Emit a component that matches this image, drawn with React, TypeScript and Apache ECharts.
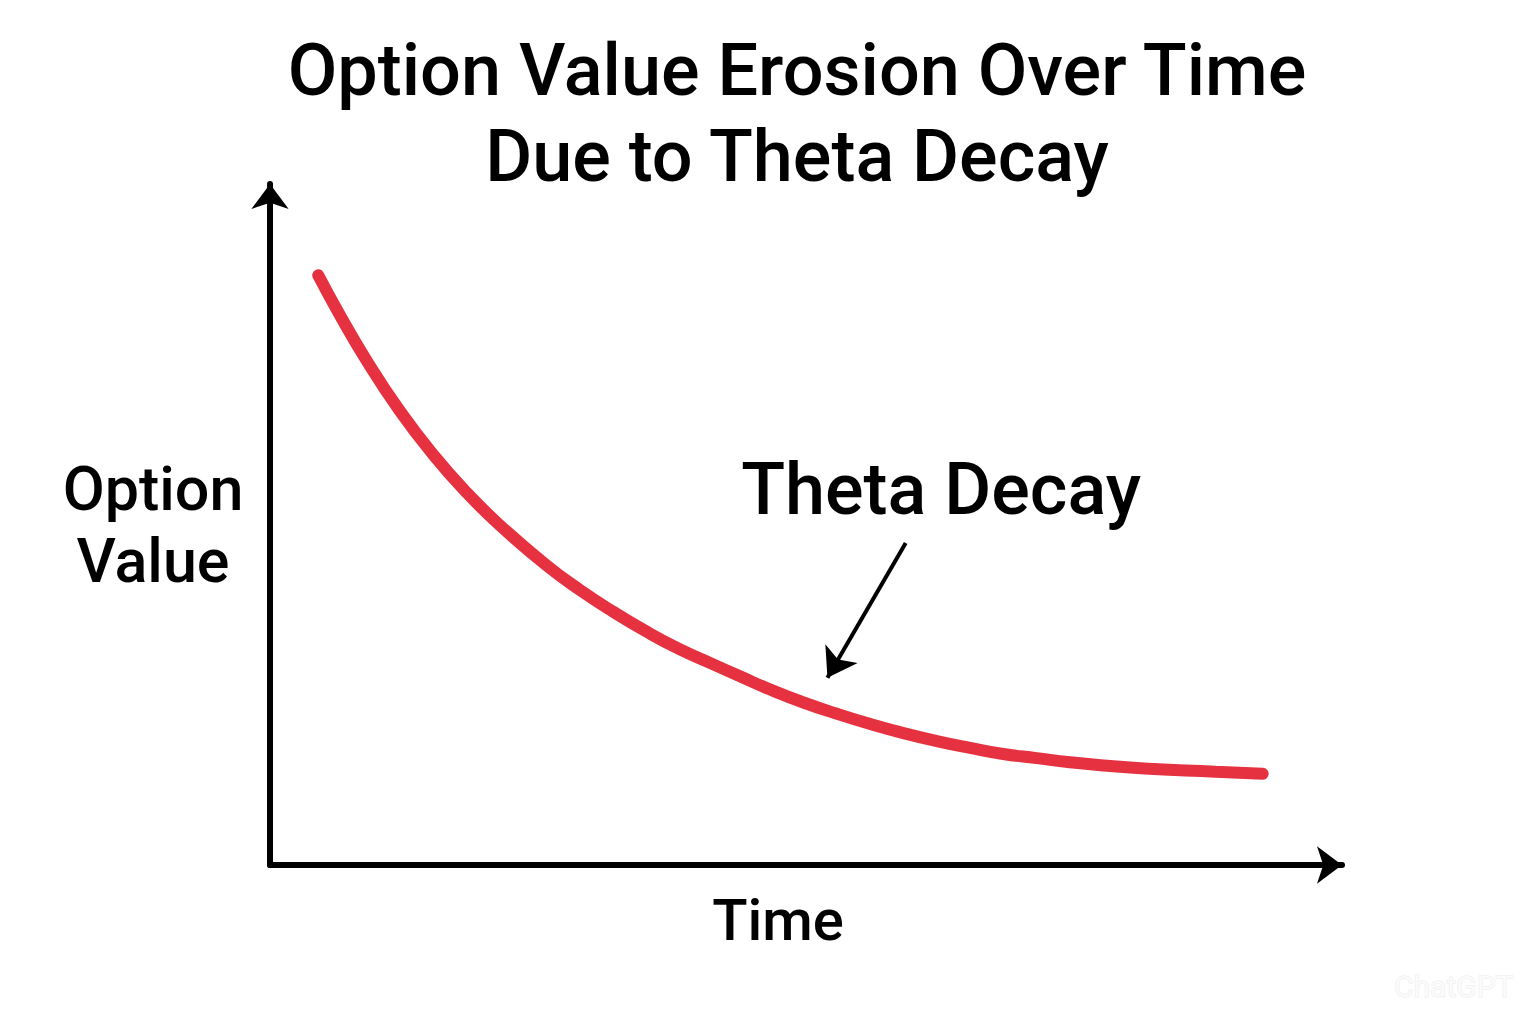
import { useEffect, useRef } from "react";
import * as echarts from "echarts";

// values (time units 0..10, value units 0..10)
const timePoints = [
  0.45, 0.65, 0.9, 1.21, 1.52, 1.84, 2.15, 2.58, 2.89, 3.2, 3.52, 3.82, 4.13,
  4.4, 4.66, 4.97, 5.29, 5.6, 5.9, 6.22, 6.53, 6.84, 7.15, 7.46, 8.12, 8.82,
  9.26,
];
const optionValue = [
  8.66, 8.08, 7.41, 6.67, 6.03, 5.46, 4.98, 4.4, 4.04, 3.72, 3.42, 3.17, 2.95,
  2.76, 2.58, 2.39, 2.22, 2.07, 1.94, 1.82, 1.72, 1.63, 1.57, 1.51, 1.42, 1.37,
  1.34,
];
const annotationFrom = [5.93, 4.73];
const annotationTo = [5.2, 2.75];
const annotationLabelAt = [6.26, 5.51];

const TITLE = "Option Value Erosion Over Time\nDue to Theta Decay";
const X_NAME = "Time";
const Y_NAME = "Option\nValue";
const ANNOTATION = "Theta Decay";

const FONT = "Roboto, Inter, 'Noto Sans', sans-serif";
const RED = "#E63240";

export default function App() {
  const chartRef = useRef<HTMLDivElement>(null);

  useEffect(() => {
    document.body.style.margin = "0";
    if (!chartRef.current) return;
    const chart = echarts.init(chartRef.current, null, { renderer: "svg" });

    const axisCommon = {
      type: "value",
      min: 0,
      max: 10,
      axisLabel: { show: false },
      axisTick: { show: false },
      splitLine: { show: false },
      axisLine: {
        show: true,
        symbol: ["none", "arrow"],
        symbolSize: [28, 25],
        lineStyle: { color: "#000", width: 6 },
      },
    };

    chart.setOption({
      animation: false,
      backgroundColor: "#fff",
      title: {
        text: TITLE,
        left: 797,
        top: 27,
        padding: 0,
        textAlign: "center",
        textStyle: {
          fontFamily: FONT,
          fontSize: 72,
          fontWeight: 500,
          lineHeight: 86,
          color: "#000",
        },
      },
      grid: {
        left: 270,
        right: 1536 - 1342,
        top: 184,
        bottom: 1024 - 865,
        containLabel: false,
        outerBoundsMode: "none",
      },
      xAxis: {
        ...axisCommon,
        name: X_NAME,
        nameLocation: "middle",
        nameGap: 55,
        nameTextStyle: {
          fontFamily: FONT,
          fontSize: 58,
          fontWeight: 500,
          color: "#000",
          align: "center",
          verticalAlign: "middle",
          padding: [0, 56, 0, 0],
        },
      },
      yAxis: {
        ...axisCommon,
        name: Y_NAME,
        nameLocation: "middle",
        nameRotate: 0,
        nameGap: 117,
        nameTextStyle: {
          fontFamily: FONT,
          fontSize: 61,
          fontWeight: 500,
          lineHeight: 72,
          color: "#000",
          align: "center",
          verticalAlign: "middle",
        },
      },
      series: [
        {
          type: "line",
          data: timePoints.map((t, i) => [t, optionValue[i]]),
          smooth: 0.5,
          symbol: "none",
          silent: true,
          lineStyle: { color: RED, width: 12, cap: "round" },
          markLine: {
            silent: true,
            symbol: ["none", "arrow"],
            symbolSize: 28,
            label: { show: false },
            lineStyle: { color: "#000", width: 4, type: "solid" },
            data: [[{ coord: annotationFrom }, { coord: annotationTo }]],
          },
          markPoint: {
            silent: true,
            symbol: "circle",
            symbolSize: 0,
            label: {
              show: true,
              position: "inside",
              formatter: ANNOTATION,
              fontFamily: FONT,
              fontSize: 72,
              fontWeight: 500,
              color: "#000",
            },
            data: [{ coord: annotationLabelAt }],
          },
        },
      ],
      graphic: [
        {
          type: "text",
          right: 22,
          bottom: 22,
          style: {
            text: "ChatGPT",
            fontFamily: FONT,
            fontSize: 30,
            fill: "#fbfbfb",
            stroke: "#ececec",
            lineWidth: 1,
          },
        },
      ],
    });

    return () => chart.dispose();
  }, []);

  return <div ref={chartRef} style={{ width: 1536, height: 1024 }} />;
}
